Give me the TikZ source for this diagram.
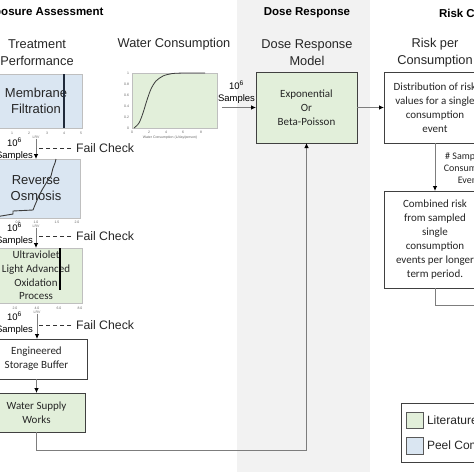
\documentclass[tikz,border=0pt]{standalone}
\usepackage{fontspec}
\setmainfont{Liberation Sans}
\newfontfamily\calfont{Carlito}
\usetikzlibrary{arrows.meta,positioning}
\definecolor{panelgray}{RGB}{242,242,242}
\definecolor{litgreen}{RGB}{226,239,218}
\definecolor{peelblue}{RGB}{218,230,242}
\definecolor{boxline}{RGB}{64,64,64}
\definecolor{linkgray}{RGB}{125,125,125}
\definecolor{curvegray}{RGB}{60,60,60}
\definecolor{lrvnavy}{RGB}{31,42,58}

\tikzset{
  heading/.style={font=\bfseries\fontsize{11.5}{14}\selectfont},
  coltitle/.style={align=center,font=\fontsize{12.8}{17}\selectfont,text=black!85},
  plotbox/.style={draw=black!25,line width=0.4pt,align=center,font=\fontsize{13}{16}\selectfont,text=black!85},
  procbox/.style={draw=boxline,line width=0.9pt,align=center,font=\calfont\fontsize{11}{14}\selectfont,text=black!85},
  ticklabel/.style={font=\fontsize{3.5}{4}\selectfont,text=black!60},
  samplelabel/.style={align=center,font=\fontsize{9.5}{12}\selectfont},
  failtext/.style={font=\fontsize{12.3}{14}\selectfont,text=black!85},
  faildash/.style={draw=black!80,line width=0.8pt,dash pattern=on 4pt off 3pt},
  link/.style={draw=linkgray,line width=0.8pt,-{Latex[length=5pt,width=4.5pt,color=black]}},
  plainlink/.style={draw=linkgray,line width=0.8pt},
  curveline/.style={draw=curvegray,line width=0.9pt}
}

\begin{document}
\begin{tikzpicture}[x=1pt,y=-1pt,every node/.append style={inner sep=0pt,outer sep=0pt}]
  \useasboundingbox (0,0) rectangle (474,474);
  \clip (0,0) rectangle (474,474);
  \fill[panelgray] (237,0) rectangle (370,472);

  % section headings
  \node[heading,anchor=east] (hexp) at (103.5,13) {Exposure Assessment};
  \node[heading] (hdose) at (307,13) {Dose Response};
  \node[heading,anchor=west] (hrisk) at (439,13) {Risk Characterisation};

  % column titles
  \node[coltitle] (ttreat) at (37,53) {Treatment\\Performance};
  \node[coltitle] (twater) at (174,44.5) {Water Consumption};
  \node[coltitle] (tdrm) at (307,53) {Dose Response\\Model};
  \node[coltitle] (trisk) at (435,53) {Risk per\\Consumption};

  % treatment barriers
  \node[plotbox,fill=peelblue,minimum width=92pt,minimum height=54pt] (mf) at (36,101) {Membrane\\Filtration};
  \draw[line width=1.4pt,draw=lrvnavy] (64,74) -- (64,128);
  \foreach \t/\x in {1/12,2/29,3/47,4/64,5/81}
    \node[ticklabel] (mft\t) at (\x,133) {\t};
  \node[ticklabel] (mflrv) at (36,137.5) {LRV};

  \node[plotbox,fill=peelblue,minimum width=88pt,minimum height=59pt] (ro) at (36,188.5) {Reverse\\Osmosis};
  \draw[curveline] (-5,217) -- (13,214) -- (13,211) -- (33,210) -- (35,205) -- (38,198) -- (42,190)
    -- (48,180) -- (51,176) -- (53,168) -- (55,163) -- (56,159);
  \foreach \t/\x [count=\i] in {0.5/18,1.0/36,1.5/57,2.0/77}
    \node[ticklabel] (rot\i) at (\x,222) {\t};
  \node[ticklabel] (rolrv) at (36,226.5) {LRV};

  \node[plotbox,fill=litgreen,minimum width=92pt,minimum height=55pt,
        font=\calfont\fontsize{11}{13.7}\selectfont] (uv) at (36,275.5) {Ultraviolet\\Light Advanced\\Oxidation\\Process};
  \draw[line width=1.1pt,draw=black] (60,248) -- (60,290);
  \foreach \t/\x [count=\i] in {2.0/15,4.0/37,6.0/59,8.0/80}
    \node[ticklabel] (uvt\i) at (\x,308) {\t};
  \node[ticklabel] (uvlrv) at (37,312.5) {LRV};

  \node[procbox,fill=white,minimum width=101pt,minimum height=40pt] (esb) at (36.5,359) {Engineered\\Storage Buffer};
  \node[procbox,fill=litgreen,minimum width=97pt,minimum height=39pt] (wsw) at (36.5,412.5) {Water Supply\\Works};

  % sampling and fail checks
  \node[samplelabel,anchor=east] (s1) at (33,149) {10\textsuperscript{6}\\Samples};
  \node[samplelabel,anchor=east] (s2) at (33,234.5) {10\textsuperscript{6}\\Samples};
  \node[samplelabel,anchor=east] (s3) at (33,323.5) {10\textsuperscript{6}\\Samples};
  \node[failtext,anchor=west] (fc1) at (76,148) {Fail Check};
  \node[failtext,anchor=west] (fc2) at (76,236) {Fail Check};
  \node[failtext,anchor=west] (fc3) at (76,325) {Fail Check};

  \draw[link] (mflrv.south) -- (ro.north -| mflrv.south);
  \draw[link] (rolrv.south) -- (uv.north -| rolrv.south);
  \draw[link] (uvlrv.south) -- (esb.north -| uvlrv.south);
  \draw[link] (esb) -- (wsw);
  \draw[faildash] ([xshift=-5pt]fc1.west) -- (fc1.west -| mflrv.south);
  \draw[faildash] ([xshift=-5pt]fc2.west) -- (fc2.west -| rolrv.south);
  \draw[faildash] ([xshift=-5pt]fc3.west) -- (fc3.west -| uvlrv.south);

  % water consumption
  \node[plotbox,fill=litgreen,minimum width=85pt,minimum height=55pt] (wc) at (174.5,100.5) {};
  \draw[curveline,line width=0.8pt] plot[smooth] coordinates {(134,128) (139,123) (143,113) (147,100)
    (151,89) (156,81) (163,76) (172,73.6) (185,73) (205,73)};
  \foreach \v/\y [count=\i] in {1/73,0.8/84,0.6/95,0.4/106,0.2/117,0/128}
    \node[ticklabel,anchor=east] (wcy\i) at (129,\y) {\v};
  \foreach \v/\x in {0/132,2/149,4/166,6/183,8/201}
    \node[ticklabel] (wcx\v) at (\x,132.5) {\v};
  \node[ticklabel] (wcxlab) at (170,137.5) {Water Consumption (L/day/person)};
  \node[samplelabel] (s4) at (236.5,92) {10\textsuperscript{6}\\Samples};
  \coordinate (wcout) at (222,107.5);

  % dose response and risk
  \node[procbox,fill=litgreen,minimum width=101pt,minimum height=71pt] (drm) at (306.5,107.5) {Exponential\\Or\\Beta-Poisson};
  \node[procbox,fill=white,minimum width=102pt,minimum height=71pt] (rpc) at (435,107.5)
    {Distribution of risk\\values for a single\\consumption\\event};
  \node[procbox,fill=white,minimum width=102pt,minimum height=97pt] (crisk) at (435,239.5)
    {Combined risk\\from sampled\\single\\consumption\\events per longer\\term period.};
  \node[align=center,font=\calfont\fontsize{10}{12}\selectfont,text=black!85] (nsamp) at (471,168)
    {\# Samples of\\Consumption\\Events};

  \draw[link] (wcout) -- (drm);
  \draw[link] (drm) -- (rpc);
  \draw[link] (rpc) -- (crisk);
  \coordinate (wswturn) at (36.5,450);
  \draw[link] (wsw.south) -- (wswturn) -| (drm.south);
  \coordinate (riskout) at (490,305);
  \draw[plainlink] (crisk.south) |- (riskout);

  % legend
  \node[draw=boxline,line width=0.8pt,fill=white,minimum width=130pt,minimum height=59pt] (legend) at (466,432.5) {};
  \node[draw=black!65,line width=0.7pt,fill=litgreen,minimum width=17pt,minimum height=16pt] (swlit) at (414.5,420) {};
  \node[draw=black!65,line width=0.7pt,fill=peelblue,minimum width=17pt,minimum height=17pt] (swpeel) at (414.5,446) {};
  \node[anchor=west,font=\fontsize{12}{14}\selectfont,text=black!85] (lglit) at ([xshift=4pt]swlit.east) {Literature};
  \node[anchor=west,font=\fontsize{12}{14}\selectfont,text=black!85] (lgpeel) at ([xshift=4pt]swpeel.east) {Peel Commissioned Study};
\end{tikzpicture}
\end{document}
